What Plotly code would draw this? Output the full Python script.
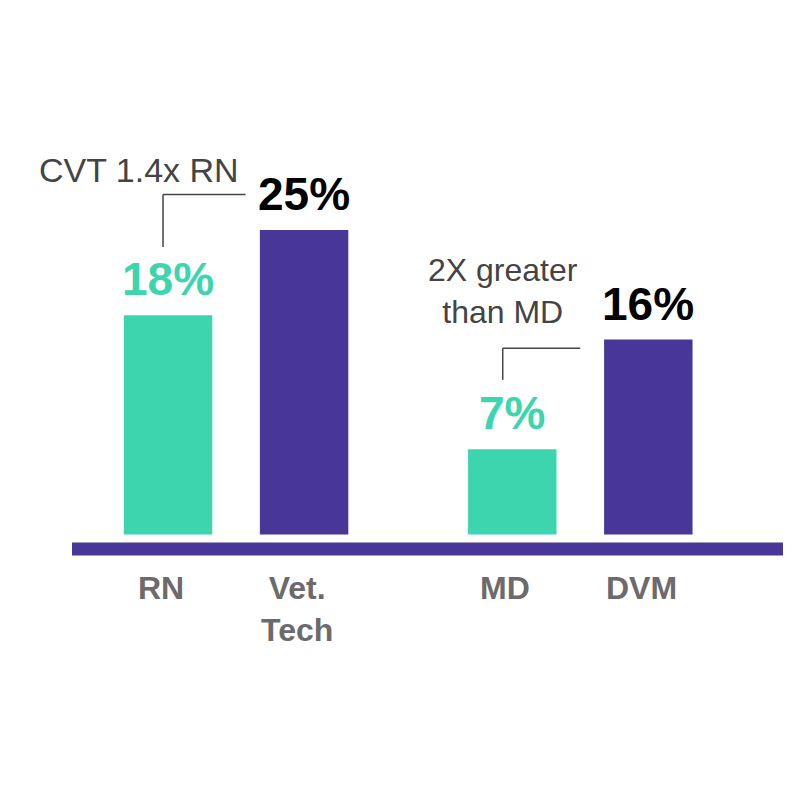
import plotly.graph_objects as go

categories = ["RN", "Vet.<br>Tech", "MD", "DVM"]
positions = [0, 1, 2.53, 3.53]
values = [18, 25, 7, 16]
labels = ["18%", "25%", "7%", "16%"]
colors = ["#3dd5ae", "#483698", "#3dd5ae", "#483698"]
label_colors = ["#3dd5ae", "#000000", "#3dd5ae", "#000000"]

fig = go.Figure(go.Bar(x=positions, y=values, width=0.65, marker_color=colors,
                       marker_line_width=0, hoverinfo="skip"))

for x, v, t, c in zip(positions, values, labels, label_colors):
    fig.add_annotation(x=x, y=v, text=f"<b>{t}</b>", showarrow=False, yanchor="bottom",
                       yshift=8, font=dict(size=46, color=c, family="Arial"))
for x, c in zip(positions, categories):
    fig.add_annotation(x=x - 0.05, xref="x", yref="paper", y=-0.02, text=f"<b>{c}</b>",
                       showarrow=False, yanchor="top",
                       font=dict(size=32, color="#6d6a6b", family="Arial"))

# baseline
fig.add_shape(type="rect", xref="paper", x0=0, x1=1, y0=-0.65, y1=-1.72,
              fillcolor="#483698", line_width=0)
# callouts
lc = dict(color="#444444", width=1.5)
fig.add_shape(type="line", x0=-0.037, x1=-0.037, y0=23.6, y1=27.9, line=lc)
fig.add_shape(type="line", x0=-0.037, x1=0.57, y0=27.9, y1=27.9, line=lc)
fig.add_shape(type="line", x0=2.46, x1=2.46, y0=12.7, y1=15.3, line=lc)
fig.add_shape(type="line", x0=2.46, x1=3.03, y0=15.3, y1=15.3, line=lc)
fig.add_annotation(x=-0.21, y=29.9, text="CVT 1.4x RN", showarrow=False,
                   font=dict(size=34, color="#444444", family="Arial"))
fig.add_annotation(x=2.46, y=16.6, text="2X greater<br>than MD", showarrow=False,
                   yanchor="bottom", align="center",
                   font=dict(size=32, color="#444444", family="Arial"))

fig.update_layout(
    width=800, height=800, plot_bgcolor="white", paper_bgcolor="white",
    margin=dict(l=64, r=25, t=100, b=249), showlegend=False,
    xaxis=dict(range=[-0.706, 4.52], visible=False, fixedrange=True),
    yaxis=dict(range=[-2, 35], visible=False, fixedrange=True),
)
fig.write_html("out.html")
